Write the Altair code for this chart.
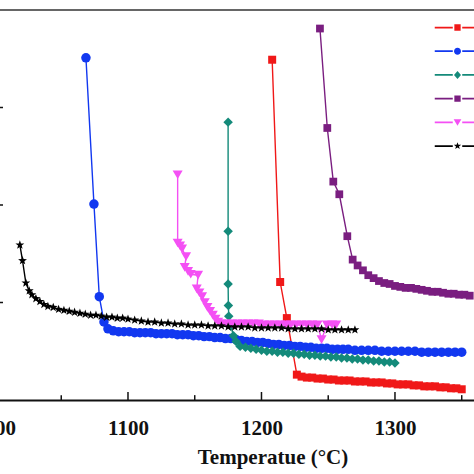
import altair as alt
import pandas as pd

# ---- series data: temperature (deg C) and measured value ----
names = ["S1", "S2", "S3", "S4", "S5", "S6"]
colors = ["#f01818", "#1238f0", "#148a7a", "#7a1e80", "#f450f4", "#000000"]

red_T = [1208, 1214, 1219, 1226.5, 1230, 1234, 1238, 1242, 1246, 1250, 1254, 1258,
         1262, 1266, 1270, 1274, 1278, 1282, 1286, 1290, 1294, 1298, 1302, 1306,
         1310, 1314, 1318, 1322, 1326, 1330, 1334, 1338, 1342, 1346, 1350]
red_v = [3.49, 1.21, 0.84, 0.26, 0.24, 0.23, 0.23, 0.22, 0.22, 0.21, 0.21, 0.20,
         0.20, 0.20, 0.19, 0.19, 0.19, 0.18, 0.18, 0.18, 0.17, 0.17, 0.16, 0.16,
         0.16, 0.15, 0.15, 0.14, 0.14, 0.14, 0.13, 0.13, 0.12, 0.12, 0.11]

blue_T = [1068.5, 1074.5, 1078.5, 1082, 1085, 1089, 1093, 1097, 1101, 1105, 1109,
          1113, 1117, 1121, 1125, 1129, 1133, 1137, 1141, 1145, 1149, 1153, 1157,
          1161, 1165, 1169, 1173, 1177, 1181, 1185, 1189, 1193, 1197, 1201, 1205,
          1209, 1213, 1217, 1221, 1225, 1229, 1233, 1237, 1241, 1245, 1249, 1253,
          1257, 1261, 1265, 1270, 1275, 1280, 1285, 1290, 1295, 1300, 1305, 1310,
          1315, 1320, 1325, 1330, 1335, 1340, 1345, 1350]
blue_v = [3.51, 2.01, 1.06, 0.80, 0.73, 0.71, 0.70, 0.70, 0.70, 0.69, 0.69,
          0.69, 0.69, 0.68, 0.68, 0.68, 0.68, 0.67, 0.67, 0.67, 0.66, 0.66, 0.65,
          0.65, 0.64, 0.64, 0.63, 0.63, 0.62, 0.61, 0.60, 0.60, 0.59, 0.59, 0.58,
          0.57, 0.57, 0.56, 0.56, 0.55, 0.55, 0.54, 0.54, 0.53, 0.53, 0.53, 0.52,
          0.52, 0.52, 0.52, 0.51, 0.51, 0.51, 0.51, 0.50, 0.50, 0.50, 0.50, 0.50,
          0.50, 0.49, 0.49, 0.49, 0.49, 0.49, 0.49, 0.49]

teal_T = [1175, 1175, 1175, 1175.2, 1175.5, 1177, 1179, 1181, 1184, 1188, 1192,
          1196, 1200, 1204, 1208, 1212, 1216, 1220, 1224, 1228, 1232, 1236, 1240,
          1244, 1248, 1252, 1256, 1260, 1264, 1268, 1272, 1276, 1280, 1284, 1288,
          1292, 1296, 1300]
teal_v = [2.85, 1.73, 1.19, 0.97, 0.86, 0.76, 0.66, 0.60, 0.55, 0.54, 0.53,
          0.52, 0.51, 0.50, 0.50, 0.49, 0.49, 0.48, 0.48, 0.47, 0.47, 0.46, 0.46,
          0.45, 0.45, 0.44, 0.44, 0.43, 0.43, 0.42, 0.42, 0.41, 0.41, 0.40, 0.40,
          0.39, 0.39, 0.38]

purple_T = [1243.8, 1249.3, 1253.8, 1258.3, 1264.3, 1268.3, 1272, 1276, 1280, 1284,
            1288, 1292, 1296, 1300, 1304, 1308, 1312, 1316, 1320, 1324, 1328, 1332,
            1336, 1340, 1344, 1348, 1352, 1356]
purple_v = [3.81, 2.79, 2.24, 2.11, 1.68, 1.44, 1.38, 1.33, 1.28, 1.25,
            1.22, 1.20, 1.19, 1.17, 1.16, 1.15, 1.15, 1.14, 1.13, 1.12, 1.11, 1.11,
            1.10, 1.09, 1.09, 1.08, 1.08, 1.07]

pink_T = [1137.2, 1137.2, 1139, 1140.5, 1143.5, 1142.5, 1145, 1147, 1152.5, 1151.5,
          1153.5, 1155.5, 1157.5, 1159.5, 1161.5, 1163.5, 1165.5, 1167.5, 1170, 1174,
          1178, 1182, 1186, 1190, 1194, 1198, 1202, 1206, 1210, 1214, 1218, 1222,
          1226, 1230, 1234, 1238, 1242, 1245, 1249, 1253, 1256]
pink_v = [2.31, 1.61, 1.58, 1.55, 1.47, 1.36, 1.32, 1.29, 1.28, 1.14,
          1.10, 1.06, 1.00, 0.95, 0.91, 0.87, 0.83, 0.80, 0.78, 0.78,
          0.78, 0.78, 0.78, 0.78, 0.78, 0.78, 0.77, 0.77, 0.77, 0.77, 0.77, 0.77,
          0.77, 0.77, 0.77, 0.77, 0.77, 0.62, 0.77, 0.77, 0.77]

black_T = [1019, 1021, 1023.5, 1026, 1028, 1031, 1034, 1037, 1040, 1044, 1048, 1052,
           1056, 1060, 1064, 1068, 1072, 1076, 1080, 1084, 1088, 1092, 1096, 1100,
           1105, 1110, 1115, 1120, 1125, 1130, 1135, 1140, 1145, 1150, 1155, 1160,
           1165, 1170, 1175, 1180, 1185, 1190, 1195, 1200, 1205, 1210, 1215, 1220,
           1225, 1230, 1235, 1240, 1245, 1250, 1255, 1260, 1265, 1270]
black_v = [1.59, 1.43, 1.20, 1.12, 1.08, 1.04, 1.01, 0.98, 0.96, 0.95, 0.93, 0.92,
           0.91, 0.90, 0.89, 0.88, 0.87, 0.87, 0.86, 0.85, 0.85, 0.84, 0.84, 0.83,
           0.82, 0.81, 0.80, 0.80, 0.79, 0.79, 0.78, 0.78, 0.77, 0.77, 0.77, 0.76,
           0.76, 0.76, 0.75, 0.75, 0.75, 0.75, 0.74, 0.74, 0.74, 0.74, 0.74, 0.73,
           0.73, 0.73, 0.73, 0.73, 0.73, 0.72, 0.72, 0.72, 0.72, 0.72]

x_ticks_major = [1100, 1200, 1300]
x_ticks_minor = [1050, 1150, 1250, 1350]
x_labels = [1000, 1100, 1200, 1300]
y_ticks = [1, 2, 3]

# ---- marker shapes ----
STAR = ("M0,-1.1L0.265,-0.364L1.046,-0.34L0.428,0.139L0.647,0.89L0,0.45"
        "L-0.647,0.89L-0.428,0.139L-1.046,-0.34L-0.265,-0.364Z")
markers = [("square", 64), ("circle", 90), ("diamond", 90),
           ("square", 60), ("triangle-down", 100), (STAR, 72)]

# legend keys: the marker with a short line segment on each side
BARS = "M-6.5,-0.25H-1.35V0.25H-6.5ZM1.35,-0.25H6.5V0.25H1.35Z"
legend_paths = [
    "M-0.9,-0.9H0.9V0.9H-0.9Z" + BARS,
    "M1,0A1,1 0 1,1 -1,0A1,1 0 1,1 1,0Z" + BARS,
    "M0,-1.15L1,0L0,1.15L-1,0Z" + BARS,
    "M-0.9,-0.9H0.9V0.9H-0.9Z" + BARS,
    "M-1.1,-0.9H1.1L0,1.0Z" + BARS,
    STAR + BARS,
]

series = [(red_T, red_v), (blue_T, blue_v), (teal_T, teal_v),
          (purple_T, purple_v), (pink_T, pink_v), (black_T, black_v)]

frames = []
for name, (T, v) in zip(names, series):
    frames.append(pd.DataFrame({"series": name, "T": T, "v": v, "k": range(len(T))}))
df = pd.concat(frames, ignore_index=True)

FONT = "Liberation Serif"
xs = alt.Scale(domain=[1000, 1359.2], nice=False, zero=False)
ys = alt.Scale(domain=[0, 4], nice=False, zero=False)

x_axis = alt.Axis(
    values=x_labels, format="d", tickSize=0, grid=False,
    domainColor="#111", domainWidth=2,
    labelFont=FONT, labelFontWeight="bold", labelFontSize=21, labelColor="#111",
    labelPadding=17, labelFlush=False, labelOverlap=False, labelBound=False,
    title="Temperatue (°C)", titleFont=FONT, titleFontWeight="bold",
    titleFontSize=21, titleColor="#111", titleX=278, titleY=63,
    titleBaseline="alphabetic", titleAlign="center",
)


def xenc():
    return alt.X("T:Q", scale=xs, axis=x_axis)


def yenc():
    return alt.Y("v:Q", scale=ys, axis=None)


lg = alt.Legend(
    title=None, orient="none", legendX=456, legendY=10.5,
    symbolSize=49, symbolStrokeWidth=0, symbolOpacity=1,
    labelFont=FONT, labelFontSize=14, labelLimit=0, labelExpr="''",
    rowPadding=9.7, padding=0,
)

layers = []

# legend carrier: invisible points that only provide the legend
layers.append(
    alt.Chart(df).mark_point(filled=True, opacity=0).encode(
        x=xenc(), y=yenc(),
        color=alt.Color("series:N", scale=alt.Scale(domain=names, range=colors), legend=lg),
        shape=alt.Shape("series:N", scale=alt.Scale(domain=names, range=legend_paths), legend=lg),
    )
)

# inward tick marks on the bottom axis
layers.append(
    alt.Chart(pd.DataFrame({"T": x_ticks_major})).mark_rule(color="#111", strokeWidth=1.5)
    .encode(x=xenc(), y=alt.YDatum(0, axis=None), y2=alt.Y2Datum(0.082))
)
layers.append(
    alt.Chart(pd.DataFrame({"T": x_ticks_minor})).mark_rule(color="#111", strokeWidth=1.5)
    .encode(x=xenc(), y=alt.YDatum(0, axis=None), y2=alt.Y2Datum(0.05))
)
# inward ticks of the left axis and the top frame line
layers.append(
    alt.Chart(pd.DataFrame({"v": y_ticks})).mark_rule(color="#111", strokeWidth=1.5)
    .encode(y=yenc(), x=alt.value(0), x2=alt.value(8.5))
)
layers.append(
    alt.Chart(pd.DataFrame({"v": [4]})).mark_rule(color="#333", strokeWidth=1.6)
    .encode(y=yenc(), x=alt.value(0), x2=alt.value(479.5))
)

# each series: connecting line plus filled markers
for name, color, (shape, size) in zip(names, colors, markers):
    base = alt.Chart(df).transform_filter(alt.datum.series == name).encode(
        x=xenc(), y=yenc(), order="k:Q",
    )
    layers.append(base.mark_line(color=color, strokeWidth=1.4))
    layers.append(base.mark_point(shape=shape, size=size, filled=True, color=color, opacity=1))

chart = (
    alt.layer(*layers)
    .properties(
        width=479.5, height=390,
        padding={"left": -5.5, "top": 10, "right": 0, "bottom": 74},
        autosize=alt.AutoSizeParams(type="none"),
        background="white",
    )
    .configure_view(stroke=None)
)

chart.save("out.html", embed_options={"renderer": "svg", "actions": False})
